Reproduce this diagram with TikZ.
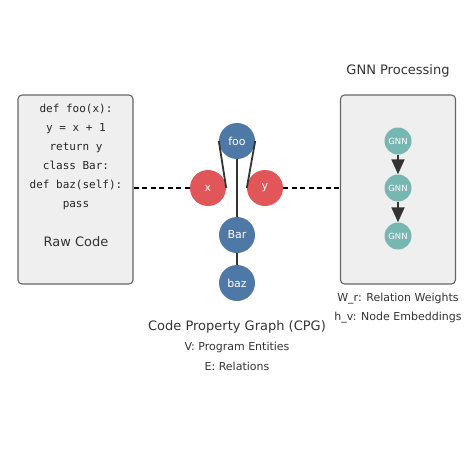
\documentclass[tikz,border=0pt]{standalone}
\usepackage{fontspec}
\setmainfont{DejaVu Sans}
\setmonofont{DejaVu Sans Mono}
\usetikzlibrary{arrows.meta}
\definecolor{cpgblue}{HTML}{4E79A7}
\definecolor{cpgred}{HTML}{E15759}
\definecolor{gnnteal}{HTML}{76B7B2}
\definecolor{boxfill}{HTML}{EFEFEF}
\definecolor{boxline}{HTML}{666666}
\definecolor{edgegray}{HTML}{333333}
\begin{document}
\begin{tikzpicture}[x=1pt, y=-1pt,
  panel/.style={rectangle, draw=boxline, fill=boxfill, line width=1.1pt, rounded corners=4pt, minimum width=115pt, minimum height=189pt, inner sep=0pt},
  entity/.style={circle, fill=cpgblue, text=white, minimum size=36pt, inner sep=0pt, font=\fontsize{11}{12}\selectfont},
  var/.style={entity, fill=cpgred},
  layer/.style={circle, fill=gnnteal, text=white, minimum size=27pt, inner sep=0pt, font=\fontsize{8.5}{9}\selectfont},
  link/.style={draw=edgegray, line width=1.8pt},
  flow/.style={draw=black, line width=1.4pt, dash pattern=on 5pt off 3.5pt},
  caption/.style={font=\fontsize{13}{15}\selectfont, text=black!80},
  note/.style={font=\fontsize{11}{13}\selectfont, text=black!80}]
\useasboundingbox (0,0) rectangle (474,474);
% raw code panel
\node[panel] (raw) at (75.5,189.5) {};
\node[font=\ttfamily\fontsize{11}{19}\selectfont, align=center, text=black!85] (code) at (76,157) {def foo(x):\\y = x + 1\\return y\\class Bar:\\def baz(self):\\pass};
\node[caption] (rawlabel) at (76,242) {Raw Code};

% code property graph
\node[entity] (foo) at (237,141) {foo};
\node[var] (x) at (208,188) {x};
\node[var] (y) at (265,188) {y};
\node[entity] (bar) at (237,235) {Bar};
\node[entity] (baz) at (237,283) {baz};
\draw[link] (foo.west) -- (x.east)
            (foo.east) -- (y.west)
            (foo.south) -- (bar.north)
            (bar.south) -- (baz.north);
\node[caption] (cpg) at (237,327) {Code Property Graph (CPG)};
\node[note] (vset) at (237,347) {V: Program Entities};
\node[note] (eset) at (237,366) {E: Relations};

% gnn panel
\node[panel] (gnn) at (398,189.5) {};
\node[caption] (gnntitle) at (398,71) {GNN Processing};
\node[layer] (g1) at (398,141) {GNN};
\node[layer] (g2) at (398,188) {GNN};
\node[layer] (g3) at (398,236) {GNN};
\draw[-{Triangle[length=15pt, width=13pt]}, edgegray, line width=1.8pt] (g1) -- (g2);
\draw[-{Triangle[length=15pt, width=13pt]}, edgegray, line width=1.8pt] (g2) -- (g3);
\node[note] (wr) at (398,299) {W\_r: Relation Weights};
\node[note] (hv) at (398,318) {h\_v: Node Embeddings};

% data flow
\draw[flow] (raw.east |- x) -- (x.west);
\draw[flow] (y.east) -- (gnn.west |- y);
\end{tikzpicture}
\end{document}
